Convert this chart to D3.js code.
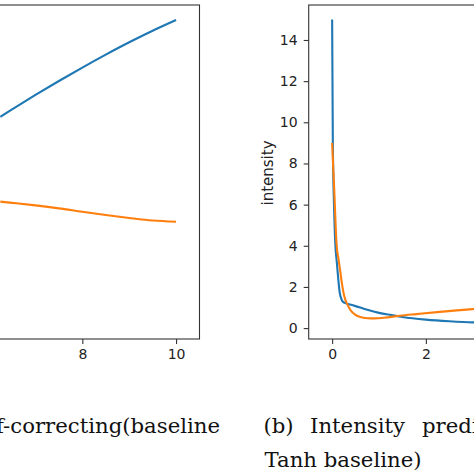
<!DOCTYPE html>
<html>
<head>
<meta charset="utf-8">
<script src="https://cdn.jsdelivr.net/npm/d3@7"></script>
</head>
<body style="margin:0;background:#fff">
<div id="chart"></div>
<script>
// panel (a): only the right end of the curves is inside the picture
var leftX = [6.25, 6.5, 7, 7.5, 8, 8.5, 9, 9.5, 10];
var leftBlue = [2.196, 2.268, 2.411, 2.549, 2.682, 2.810, 2.932, 3.046, 3.152];
var leftOrange = [1.357, 1.345, 1.320, 1.291, 1.257, 1.225, 1.196, 1.171, 1.159];

// panel (b): intensity over time
var rightX = [0, 0.015, 0.04, 0.07, 0.1, 0.13, 0.16, 0.2, 0.23, 0.3, 0.42, 0.6, 0.77, 1.0, 1.27, 1.5, 2.0, 2.5, 3.0, 4, 5, 6, 8, 10];
var rightBlue = [15.0, 9.0, 6.0, 4.0, 3.2, 2.4, 1.75, 1.4, 1.28, 1.2, 1.12, 1.0, 0.875, 0.74, 0.63, 0.54, 0.41, 0.33, 0.28, 0.26, 0.25, 0.24, 0.235, 0.23];
var rightX2 = [0, 0.047, 0.094, 0.14, 0.18, 0.22, 0.26, 0.315, 0.4, 0.49, 0.6, 0.75, 0.9, 1.1, 1.45, 1.8, 2.3, 3.0, 4, 5, 6, 8, 10];
var rightOrange = [9.0, 6.6, 4.1, 3.3, 2.65, 2.0, 1.55, 1.2, 0.85, 0.65, 0.54, 0.48, 0.47, 0.50, 0.60, 0.68, 0.79, 0.92, 1.05, 1.15, 1.24, 1.38, 1.5];

var xTicks = [0, 2, 4, 6, 8, 10];
var yTicks = [0, 2, 4, 6, 8, 10, 12, 14];

var blue = "#1f77b4", orange = "#ff7f0e";
var w = 474, h = 474;
var top_ = 5, bottom = 339;
var sans = "'DejaVu Sans', sans-serif";
var serif = "'DejaVu Serif', serif";

var svg = d3.select("#chart").append("svg")
    .attr("width", w)
    .attr("height", h)
    .style("display", "block");

function frame(x0, x1) {
  svg.append("rect")
    .attr("x", x0).attr("y", top_)
    .attr("width", x1 - x0).attr("height", bottom - top_)
    .attr("fill", "none")
    .attr("stroke", "#333")
    .attr("stroke-width", 1.1);
}

function styleAxis(g) {
  g.select(".domain").remove();
  g.selectAll(".tick line").attr("stroke", "#333").attr("stroke-width", 1.1);
  g.selectAll(".tick text")
    .style("font-family", sans)
    .style("font-size", "14px")
    .attr("fill", "#222");
}

function xAxis(x) {
  // only the ticks that fall inside the picture
  var vis = xTicks.filter(function(t) { return x(t) > 5 && x(t) < w - 5; });
  var g = svg.append("g")
    .attr("transform", "translate(0," + bottom + ")")
    .call(d3.axisBottom(x).tickValues(vis).tickSize(5).tickPadding(5).tickFormat(d3.format("d")));
  styleAxis(g);
}

function curve(x, y, xs, ys, color) {
  var line = d3.line()
    .x(function(d, i) { return x(xs[i]); })
    .y(function(d) { return y(d); })
    .curve(d3.curveMonotoneX);
  svg.append("path")
    .datum(ys)
    .attr("d", line)
    .attr("fill", "none")
    .attr("stroke", color)
    .attr("stroke-width", 2.1);
}

// ---- panel (a)
var xa = d3.scaleLinear().domain([-0.5, 10.5]).range([-316, 199.5]);
var ya = d3.scaleLinear().domain([0, 3.3]).range([bottom, top_]);
frame(-316, 199.5);
xAxis(xa);
curve(xa, ya, leftX, leftBlue, blue);
curve(xa, ya, leftX, leftOrange, orange);

// ---- panel (b)
var xb = d3.scaleLinear().domain([-0.5, 10.5]).range([308.7, 824.2]);
var yb = d3.scaleLinear().domain([-0.53, 15.7]).range([bottom, top_]);
frame(308.7, 824.2);
xAxis(xb);
var gy = svg.append("g")
  .attr("transform", "translate(308.7,0)")
  .call(d3.axisLeft(yb).tickValues(yTicks).tickSize(5).tickPadding(6));
styleAxis(gy);

svg.append("text")
  .attr("transform", "translate(272.5,173) rotate(-90)")
  .attr("text-anchor", "middle")
  .style("font-family", sans)
  .style("font-size", "15px")
  .attr("fill", "#222")
  .text("intensity");

curve(xb, yb, rightX, rightBlue, blue);
curve(xb, yb, rightX2, rightOrange, orange);

// ---- captions (sized so "Tanh baseline)" is as wide as in the figure)
var probe = svg.append("text")
  .style("font-family", serif).style("font-size", "20px")
  .text("Tanh baseline)");
var capSize = 20 * 157 / probe.node().getComputedTextLength();
probe.remove();

function cap(x, y) {
  return svg.append("text")
    .attr("x", x).attr("y", y)
    .style("font-family", serif)
    .style("font-size", capSize + "px")
    .attr("fill", "#111");
}

cap(220, 433)
  .attr("text-anchor", "end")
  .text("(a) Intensity prediction of self-correcting(baseline");

var c1 = cap(263.5, 433);
c1.append("tspan").attr("x", 263.5).text("(b)");
c1.append("tspan").attr("x", 310).text("Intensity");
c1.append("tspan").attr("x", 422).text("prediction");
cap(264.5, 467).text("Tanh baseline)");
</script>
</body>
</html>
